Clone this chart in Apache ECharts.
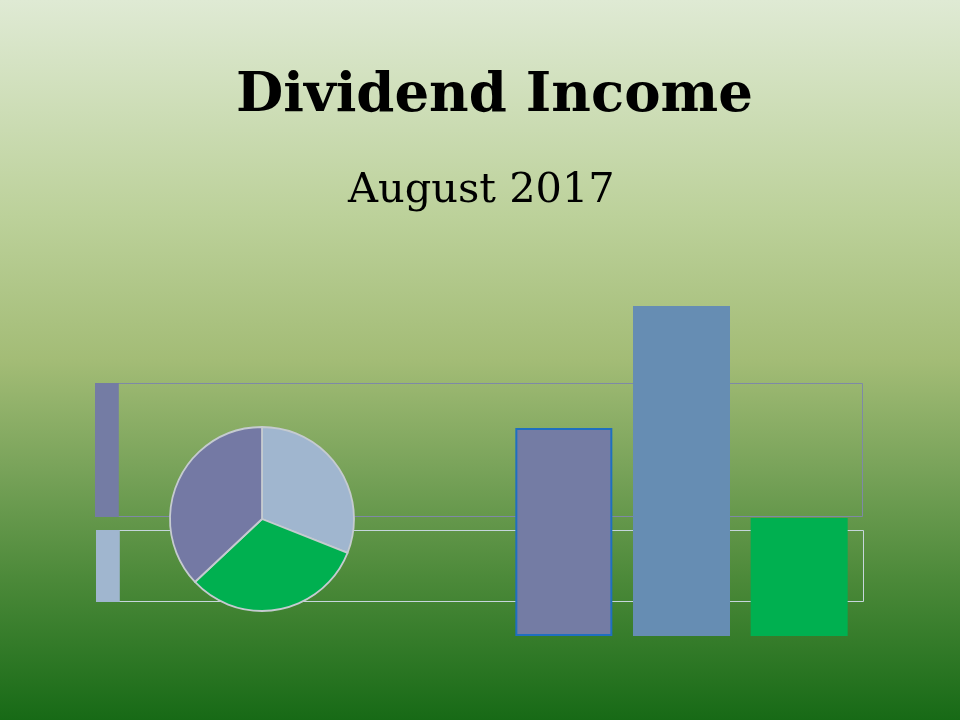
<!DOCTYPE html>
<html>
<head>
<meta charset="utf-8">
<title>Dividend Income</title>
<script src="https://cdn.jsdelivr.net/npm/echarts@6/dist/echarts.min.js"></script>
<style>
  html, body { margin: 0; padding: 0; }
  #main { width: 960px; height: 720px; }
</style>
</head>
<body>
<div id="main"></div>
<script>
// decorative rows: full length and the filled part at the left
const rowTotals = [100, 100]
const rowFills = [3.1, 3.1]
const rowFillColors = ['#747ca4', '#a0b6cf']
const rowLineColors = ['#7e89a6', '#c6d6dc']

// pie slices
const pieNames = ['A', 'B', 'C']
const pieValues = [31, 32, 37]
const pieColors = ['#a0b6cf', '#00b050', '#7479a4']

// bars
const barCats = ['1', '2', '3']
const barValues = [208, 330, 118]
const barColors = ['#747ca4', '#668db3', '#00b050']

const chart = echarts.init(document.getElementById('main'))

const option = {
  backgroundColor: {
    type: 'linear', x: 0, y: 0, x2: 0, y2: 1,
    colorStops: [
      { offset: 0, color: '#dfead4' },
      { offset: 0.3, color: '#bcd19a' },
      { offset: 0.5, color: '#a3bc76' },
      { offset: 0.65, color: '#79a35a' },
      { offset: 0.8, color: '#4d8a3a' },
      { offset: 1, color: '#176a16' }
    ]
  },
  title: [{
    text: 'Dividend Income',
    left: 231,
    top: 64,
    textStyle: { fontFamily: 'DejaVu Serif', fontWeight: 'bold', fontSize: 54.5, color: '#000' }
  }, {
    text: 'August 2017',
    left: 343,
    top: 165,
    textStyle: { fontFamily: 'DejaVu Serif', fontWeight: 'normal', fontSize: 41.5, color: '#000' }
  }],
  grid: [
    { left: 95, top: 383, width: 768, height: 134 },
    { left: 96, top: 530, width: 768, height: 72 },
    { left: 505, top: 306, width: 353, height: 330 }
  ],
  xAxis: [
    { gridIndex: 0, type: 'value', min: 0, max: 100, show: false },
    { gridIndex: 1, type: 'value', min: 0, max: 100, show: false },
    { gridIndex: 2, type: 'category', data: barCats, show: false }
  ],
  yAxis: [
    { gridIndex: 0, type: 'category', data: ['r1'], show: false },
    { gridIndex: 1, type: 'category', data: ['r2'], show: false },
    { gridIndex: 2, type: 'value', min: 0, max: 330, show: false }
  ],
  series: [
    ...[0, 1].flatMap(i => [{
      type: 'bar', xAxisIndex: i, yAxisIndex: i, silent: true, z: 1,
      barWidth: '100%',
      data: [rowTotals[i]],
      itemStyle: { color: 'rgba(0,0,0,0)', borderColor: rowLineColors[i], borderWidth: 1 }
    }, {
      type: 'bar', xAxisIndex: i, yAxisIndex: i, silent: true, z: 2,
      barWidth: '100%', barGap: '-100%',
      data: [rowFills[i]],
      itemStyle: { color: rowFillColors[i] }
    }]),
    {
      type: 'pie',
      center: [262, 519],
      radius: 92,
      startAngle: 90,
      clockwise: true,
      z: 5,
      silent: true,
      label: { show: false },
      labelLine: { show: false },
      itemStyle: { borderColor: '#c5cbd0', borderWidth: 1.8 },
      data: pieNames.map((n, i) => ({ name: n, value: pieValues[i], itemStyle: { color: pieColors[i] } }))
    },
    {
      type: 'bar',
      xAxisIndex: 2, yAxisIndex: 2,
      barWidth: 97,
      z: 5,
      silent: true,
      data: barValues.map((v, i) => ({
        value: v,
        itemStyle: i === 0
          ? { color: barColors[i], borderColor: '#1f6fc0', borderWidth: 2 }
          : { color: barColors[i] }
      }))
    }
  ]
}

chart.setOption(option)
</script>
</body>
</html>
